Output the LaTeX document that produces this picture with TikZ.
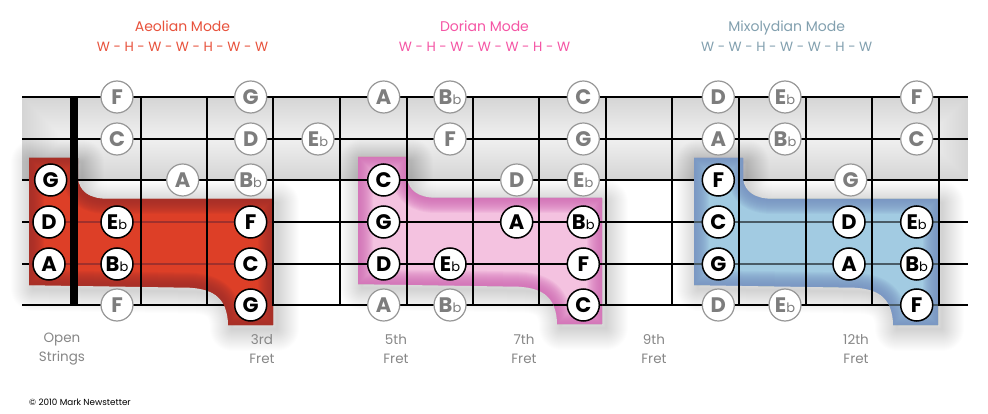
\documentclass[tikz,border=0pt]{standalone}
\usepackage{fontspec}
\setmainfont{Poppins}
\usetikzlibrary{calc}
\definecolor{aeolred}{RGB}{221,63,39}
\definecolor{aeoledge}{RGB}{160,48,44}
\definecolor{dorpink}{RGB}{244,194,224}
\definecolor{doredge}{RGB}{208,105,180}
\definecolor{mixblue}{RGB}{162,203,226}
\definecolor{mixedge}{RGB}{118,144,192}
\definecolor{greyfret}{RGB}{238,238,238}
\definecolor{notegrey}{RGB}{125,125,125}
\definecolor{captiongrey}{RGB}{135,135,135}
\definecolor{aeoltitle}{RGB}{232,82,60}
\definecolor{dortitle}{RGB}{245,85,165}
\definecolor{mixtitle}{RGB}{130,160,175}
\newcommand{\flatb}{{\fontsize{13}{13}\selectfont\mdseries b}}
\newcommand{\fretblob}{(29,158) -- (78,158) -- (78,180) .. controls (80,191) and (88,198.5) .. (106,199)
    -- (273,199) -- (273,325) -- (228,325) -- (228,320) .. controls (226,300) and (216,289) .. (190,287.5) -- (29,285) -- cycle}
\tikzset{
    graynote/.style={circle, draw=notegrey!80, line width=1.2pt, fill=white, text=notegrey, minimum size=32pt,
        inner sep=0pt, font=\fontsize{21}{21}\selectfont\bfseries},
    blacknote/.style={circle, draw=black, line width=1.5pt, fill=white, text=black, minimum size=32pt,
        inner sep=0pt, font=\fontsize{21}{21}\selectfont\bfseries},
    caption/.style={text=captiongrey, font=\fontsize{13.5}{19}\selectfont, align=center},
    modename/.style={anchor=base, inner sep=0pt, font=\fontsize{14}{14}\selectfont},
    modesteps/.style={anchor=base, inner sep=0pt, font=\fontsize{13.4}{14}\selectfont},
}
\begin{document}
\begin{tikzpicture}[x=1pt,y=-1pt]
    \useasboundingbox (0,0) rectangle (988,414);
    \fill[white] (0,0) rectangle (988,414);

    % grey upper strings
    \begin{scope}
        \clip (22,97) rectangle (968,180);
        \fill[greyfret] (22,97) rectangle (968,180);
        \foreach \w in {3,6,...,75}
            \draw[black, opacity=0.005, line width=\w pt] (22,97) rectangle (968,180);
    \end{scope}

    % shadows of the blocks
    \foreach \sx/\sy in {0/0, 329/-1, 665/0} {
        \begin{scope}[xshift=\sx pt, yshift=-\sy pt]
            \begin{scope}[shift={(4,4)}]
                \foreach \w in {2,4,...,44}
                    \draw[black, opacity=0.009, line width=\w pt, line join=round] \fretblob;
            \end{scope}
        \end{scope}
    }

    % strings
    \foreach \sy in {97,139,180,222,264,305}
        \draw[black, line width=1.5pt] (22,\sy) -- (968,\sy);

    % coloured blocks
    \foreach \sx/\sy/\base/\edge in {0/0/aeolred/aeoledge, 329/-1/dorpink/doredge, 665/0/mixblue/mixedge} {
        \begin{scope}[xshift=\sx pt, yshift=-\sy pt]
            \begin{scope}
                \clip \fretblob;
                \fill[\base] \fretblob;
                \foreach \w in {2,4,...,30}
                    \draw[\edge, opacity=0.1, line width=\w pt] \fretblob;
            \end{scope}
        \end{scope}
    }

    % strings seen through the blocks
    \begin{scope}
        \clip[xshift=329pt, yshift=1pt] \fretblob;
        \foreach \sy in {180,222,264,305}
            \draw[black, line width=1.5pt] (22,\sy) -- (968,\sy);
    \end{scope}
    \begin{scope}
        \clip \fretblob;
        \foreach \sy in {222,264}
            \draw[aeoledge, line width=1.2pt] (22,\sy) -- (968,\sy);
    \end{scope}
    \begin{scope}
        \clip[xshift=665pt] \fretblob;
        \foreach \sy in {222,264,305}
            \draw[black!55!mixblue, line width=1.2pt] (22,\sy) -- (968,\sy);
    \end{scope}

    % frets
    \foreach \fx in {141,207,273,340,407,473,539,606,672,739,806,872,939}
        \draw[black, line width=1.5pt] (\fx,96.5) -- (\fx,305.5);
    \fill[black] (70,96.5) rectangle (78,305.5);

    % notes
    \foreach \nx/\ny/\lbl [count=\i] in {117/97/F, 117/139/C, 250.7/97/G, 250.7/139/D, 318/139/E\flatb, 182.7/180/A, 250.7/180/B\flatb, 117/305/F,
            383.7/97/A, 450/97/B\flatb, 583.3/97/C, 450/139/F, 583.3/139/G, 516.7/180/D, 583.3/180/E\flatb, 383.7/305/A, 450/305/B\flatb,
            718.3/97/D, 785/97/E\flatb, 916.7/97/F, 718.3/139/A, 785/139/B\flatb, 916.7/139/C, 850.7/180/G, 718.3/305/D, 785/305/E\flatb}
        \node[graynote] (gn\i) at (\nx,\ny) {\lbl};
    \foreach \nx/\ny/\lbl [count=\i] in {50.7/180/G, 49/222/D, 49/264/A, 117/222/E\flatb, 117/264/B\flatb, 250.7/222/F, 250.7/264/C, 250.7/305/G,
            383.7/180/C, 383.7/222/G, 383.7/264/D, 450/264/E\flatb, 516.7/222/A, 583.3/222/B\flatb, 583.3/264/F, 583.3/305/C,
            718.3/180/F, 718.3/222/C, 718.3/264/G, 849/222/D, 849/264/A, 916.7/222/E\flatb, 916.7/264/B\flatb, 916.7/305/F}
        \node[blacknote] (bn\i) at (\nx,\ny) {\lbl};

    % titles
    \node[modename, text=aeoltitle] (aeolian) at (182.5,31.5) {Aeolian Mode};
    \node[modesteps, text=aeoltitle] (aeolsteps) at (182.5,52) {W - H - W - W - H - W - W};
    \node[modename, text=dortitle] (dorian) at (484.5,31.5) {Dorian Mode};
    \node[modesteps, text=dortitle] (dorsteps) at (484.5,52) {W - H - W - W - W - H - W};
    \node[modename, text=mixtitle] (mixo) at (786.7,31.5) {Mixolydian Mode};
    \node[modesteps, text=mixtitle] (mixsteps) at (786.7,52) {W - W - H - W - W - H - W};

    % fret captions
    \node[caption] (open) at (62,349) {Open\\Strings};
    \node[caption] (third) at (262,349) {3rd\\Fret};
    \node[caption] (fifth) at (396,349) {5th\\Fret};
    \node[caption] (seventh) at (524,349) {7th\\Fret};
    \node[caption] (ninth) at (654,349) {9th\\Fret};
    \node[caption] (twelfth) at (856,349) {12th\\Fret};

    \node[anchor=west, font=\fontsize{8.8}{8.8}\selectfont, inner sep=0pt] (copy) at (29,402) {© 2010 Mark Newstetter};
\end{tikzpicture}
\end{document}
